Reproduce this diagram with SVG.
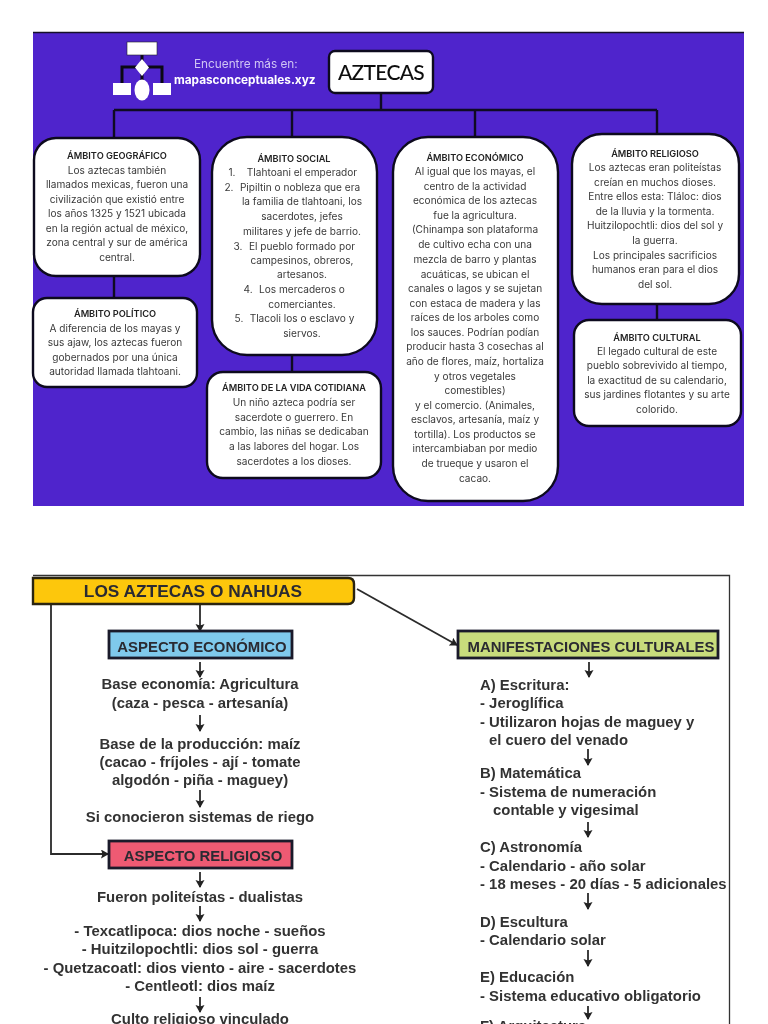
<svg xmlns="http://www.w3.org/2000/svg" width="768" height="1024" viewBox="0 0 768 1024">
<defs>
<marker id="a" markerUnits="userSpaceOnUse" markerWidth="10" markerHeight="10" refX="7" refY="4.5" orient="auto"><path d="M0 0L8 4.5L0 9L1.5 4.5Z" fill="#222"/></marker>
<filter id="soft" x="-5%" y="-20%" width="110%" height="140%"><feGaussianBlur stdDeviation="0.35"/></filter>
</defs>
<style>
text{filter:url(#soft)}
.c{fill:#fff;stroke:#0d0a1e;stroke-width:2.4}
.p{font-family:Inter,"Liberation Sans",sans-serif;font-size:10.1px;fill:#3a3a3a;text-anchor:middle}
.p .t{font-weight:600;fill:#222;font-size:9.2px}
.l{fill:none;stroke:#0f0b22;stroke-width:2.4}
.s{fill:none;stroke:#2b2b2b;stroke-width:1.8;marker-end:url(#a)}
.b{font-family:"Liberation Sans",Arial,sans-serif;font-weight:700;font-size:14.9px;fill:#333}
.m{text-anchor:middle}
.h{stroke:#1a1a2a;stroke-width:2.8}
.ht{font-family:"Liberation Sans",Arial,sans-serif;font-weight:700;font-size:14.9px;fill:#2a2a30;text-anchor:middle}
</style>
<rect width="768" height="1024" fill="#fff"/>
<g id="fondo-superior"><rect x="33" y="33" width="711" height="473" fill="#4f24cc"/><path d="M33 32.500H744" stroke="#15102a" stroke-width="1.500"/></g>
<g id="logo">
<path d="M122 83V67H162V83M142 55V83" fill="none" stroke="#0a0814" stroke-width="3"/>
<rect x="127" y="42" width="30" height="13" fill="#fff" stroke="#222" stroke-width=".6"/>
<path d="M142 59L149 67.500L142 76L135 67.500Z" fill="#fff"/>
<rect x="113" y="83" width="18" height="12" fill="#fff"/><rect x="153" y="83" width="18" height="12" fill="#fff"/>
<ellipse cx="142" cy="90" rx="7.500" ry="10.500" fill="#fff"/>
<text x="194" y="68" font-family="Inter,'Liberation Sans',sans-serif" font-size="11.800" fill="#cfc4f4">Encuentre más en:</text>
<text x="174" y="84" font-family="Inter,'Liberation Sans',sans-serif" font-size="11.800" font-weight="700" fill="#fff">mapasconceptuales.xyz</text>
</g>
<g id="conectores-superior">
<path class="l" d="M381 93V110M114 110H657M114 110V138M292 110V137M475 110V137M657 110V134M114 276V298M292 355V372M657 304V320"/>
</g>
<g id="aztecas"><rect class="c" x="329" y="51" width="104" height="42" rx="6"/><text x="381" y="80" font-family="Lato,'Liberation Sans',sans-serif" font-size="21" font-weight="500" letter-spacing="-.7" fill="#111" text-anchor="middle">AZTECAS</text></g>
<g id="geografico"><rect class="c" x="34" y="138" width="166" height="138" rx="22"/>
<text class="p"><tspan class="t" x="117" y="159">ÁMBITO GEOGRÁFICO</tspan><tspan x="117" y="174">Los aztecas también</tspan><tspan x="117" y="188">llamados mexicas, fueron una</tspan><tspan x="117" y="203">civilización que existió entre</tspan><tspan x="117" y="217">los años 1325 y 1521 ubicada</tspan><tspan x="117" y="232">en la región actual de méxico,</tspan><tspan x="117" y="246">zona central y sur de américa</tspan><tspan x="117" y="261">central.</tspan></text></g>
<g id="politico"><rect class="c" x="33" y="298" width="164" height="89" rx="14"/>
<text class="p"><tspan class="t" x="115" y="317">ÁMBITO POLÍTICO</tspan><tspan x="115" y="332">A diferencia de los mayas y</tspan><tspan x="115" y="346">sus ajaw, los aztecas fueron</tspan><tspan x="115" y="361">gobernados por una única</tspan><tspan x="115" y="375">autoridad llamada tlahtoani.</tspan></text></g>
<g id="social"><rect class="c" x="212" y="137" width="165" height="218" rx="35"/>
<text class="p"><tspan class="t" x="294" y="162">ÁMBITO SOCIAL</tspan><tspan x="232" y="176">1.</tspan><tspan x="302" y="176">Tlahtoani el emperador</tspan><tspan x="229" y="191">2.</tspan><tspan x="300" y="191">Pipiltin o nobleza que era</tspan><tspan x="302" y="205">la familia de tlahtoani, los</tspan><tspan x="302" y="220">sacerdotes, jefes</tspan><tspan x="302" y="235">militares y jefe de barrio.</tspan><tspan x="238" y="250">3.</tspan><tspan x="302" y="250">El pueblo formado por</tspan><tspan x="302" y="264">campesinos, obreros,</tspan><tspan x="302" y="278">artesanos.</tspan><tspan x="248" y="293">4.</tspan><tspan x="302" y="293">Los mercaderos o</tspan><tspan x="302" y="308">comerciantes.</tspan><tspan x="239" y="322">5.</tspan><tspan x="302" y="322">Tlacoli los o esclavo y</tspan><tspan x="302" y="337">siervos.</tspan></text></g>
<g id="cotidiana"><rect class="c" x="207" y="372" width="174" height="106" rx="16"/>
<text class="p"><tspan class="t" x="294" y="391">ÁMBITO DE LA VIDA COTIDIANA</tspan><tspan x="294" y="406">Un niño azteca podría ser</tspan><tspan x="294" y="421">sacerdote o guerrero. En</tspan><tspan x="294" y="435">cambio, las niñas se dedicaban</tspan><tspan x="294" y="450">a las labores del hogar. Los</tspan><tspan x="294" y="465">sacerdotes a los dioses.</tspan></text></g>
<g id="economico"><rect class="c" x="393" y="137" width="165" height="364" rx="35"/>
<text class="p"><tspan class="t" x="475" y="161">ÁMBITO ECONÓMICO</tspan><tspan x="475" y="175">Al igual que los mayas, el</tspan><tspan x="475" y="190">centro de la actividad</tspan><tspan x="475" y="204">económica de los aztecas</tspan><tspan x="475" y="219">fue la agricultura.</tspan><tspan x="475" y="233">(Chinampa son plataforma</tspan><tspan x="475" y="248">de cultivo echa con una</tspan><tspan x="475" y="263">mezcla de barro y plantas</tspan><tspan x="475" y="278">acuáticas, se ubican el</tspan><tspan x="475" y="292">canales o lagos y se sujetan</tspan><tspan x="475" y="307">con estaca de madera y las</tspan><tspan x="475" y="321">raíces de los arboles como</tspan><tspan x="475" y="336">los sauces. Podrían podían</tspan><tspan x="475" y="350">producir hasta 3 cosechas al</tspan><tspan x="475" y="365">año de flores, maíz, hortaliza</tspan><tspan x="475" y="380">y otros vegetales</tspan><tspan x="475" y="394">comestibles)</tspan><tspan x="475" y="409">y el comercio. (Animales,</tspan><tspan x="475" y="423">esclavos, artesanía, maíz y</tspan><tspan x="475" y="438">tortilla). Los productos se</tspan><tspan x="475" y="452">intercambiaban por medio</tspan><tspan x="475" y="467">de trueque y usaron el</tspan><tspan x="475" y="482">cacao.</tspan></text></g>
<g id="religioso"><rect class="c" x="572" y="134" width="167" height="170" rx="30"/>
<text class="p"><tspan class="t" x="655" y="157">ÁMBITO RELIGIOSO</tspan><tspan x="655" y="171">Los aztecas eran politeístas</tspan><tspan x="655" y="186">creían en muchos dioses.</tspan><tspan x="655" y="200">Entre ellos esta: Tláloc: dios</tspan><tspan x="655" y="215">de la lluvia y la tormenta.</tspan><tspan x="655" y="229">Huitzilopochtli: dios del sol y</tspan><tspan x="655" y="244">la guerra.</tspan><tspan x="655" y="259">Los principales sacrificios</tspan><tspan x="655" y="273">humanos eran para el dios</tspan><tspan x="655" y="288">del sol.</tspan></text></g>
<g id="cultural"><rect class="c" x="574" y="320" width="167" height="106" rx="15"/>
<text class="p"><tspan class="t" x="657" y="341">ÁMBITO CULTURAL</tspan><tspan x="657" y="355">El legado cultural de este</tspan><tspan x="657" y="369">pueblo sobrevivido al tiempo,</tspan><tspan x="657" y="384">la exactitud de su calendario,</tspan><tspan x="657" y="398">sus jardines flotantes y su arte</tspan><tspan x="657" y="413">colorido.</tspan></text></g>
<g id="marco-inferior"><path d="M33 575.500H729.500V1024" fill="none" stroke="#333" stroke-width="1.300"/></g>
<g id="conectores-inferior">
<path class="s" d="M200 604V631"/>
<path class="s" d="M51 604V854H108"/>
<path class="s" d="M357 589L457 645"/>
<path class="s" d="M200 662V677"/><path class="s" d="M200 715V731"/><path class="s" d="M200 790V807"/>
<path class="s" d="M200 872V887"/><path class="s" d="M200 906V921"/><path class="s" d="M200 997V1012"/>
<path class="s" d="M589 662V677"/><path class="s" d="M588 749V765"/><path class="s" d="M588 822V837"/><path class="s" d="M588 893V909"/><path class="s" d="M588 950V966"/><path class="s" d="M588 1006V1019"/>
</g>
<g id="nahuas"><path d="M33 578H348Q354 578 354 584V598Q354 604 348 604H33Z" fill="#fdc70c" stroke="#2a2410" stroke-width="2.400"/><text class="ht" x="193" y="597" style="font-size:17.300px">LOS AZTECAS O NAHUAS</text></g>
<g id="aspecto-economico"><rect class="h" x="109" y="631" width="183" height="27" fill="#7fc9ec"/><text class="ht" x="202" y="652">ASPECTO ECONÓMICO</text></g>
<g id="aspecto-religioso"><rect class="h" x="109" y="841" width="183" height="27" fill="#ee5a73"/><text class="ht" x="203" y="861">ASPECTO RELIGIOSO</text></g>
<g id="manifestaciones"><rect class="h" x="458" y="631" width="260" height="27" fill="#c8dc7c"/><text class="ht" x="591" y="652">MANIFESTACIONES CULTURALES</text></g>
<g id="texto-economico"><text class="b m"><tspan x="200" y="689">Base economía: Agricultura</tspan><tspan x="200" y="708">(caza - pesca - artesanía)</tspan><tspan x="200" y="749">Base de la producción: maíz</tspan><tspan x="200" y="767">(cacao - fríjoles - ají - tomate</tspan><tspan x="200" y="785">algodón - piña - maguey)</tspan><tspan x="200" y="822">Si conocieron sistemas de riego</tspan></text></g>
<g id="texto-religioso"><text class="b m"><tspan x="200" y="902">Fueron politeístas - dualistas</tspan><tspan x="200" y="936">- Texcatlipoca: dios noche - sueños</tspan><tspan x="200" y="954">- Huitzilopochtli: dios sol - guerra</tspan><tspan x="200" y="973">- Quetzacoatl: dios viento - aire - sacerdotes</tspan><tspan x="200" y="991">- Centleotl: dios maíz</tspan><tspan x="200" y="1024">Culto religioso vinculado</tspan></text></g>
<g id="texto-cultural"><text class="b"><tspan x="480" y="690">A) Escritura:</tspan><tspan x="480" y="708">- Jeroglífica</tspan><tspan x="480" y="727">- Utilizaron hojas de maguey y</tspan><tspan x="489" y="745">el cuero del venado</tspan><tspan x="480" y="778">B) Matemática</tspan><tspan x="480" y="797">- Sistema de numeración</tspan><tspan x="493" y="815">contable y vigesimal</tspan><tspan x="480" y="852">C) Astronomía</tspan><tspan x="480" y="871">- Calendario - año solar</tspan><tspan x="480" y="889">- 18 meses - 20 días - 5 adicionales</tspan><tspan x="480" y="927">D) Escultura</tspan><tspan x="480" y="945">- Calendario solar</tspan><tspan x="480" y="982">E) Educación</tspan><tspan x="480" y="1001">- Sistema educativo obligatorio</tspan><tspan x="480" y="1031">F) Arquitectura</tspan></text></g>
</svg>
